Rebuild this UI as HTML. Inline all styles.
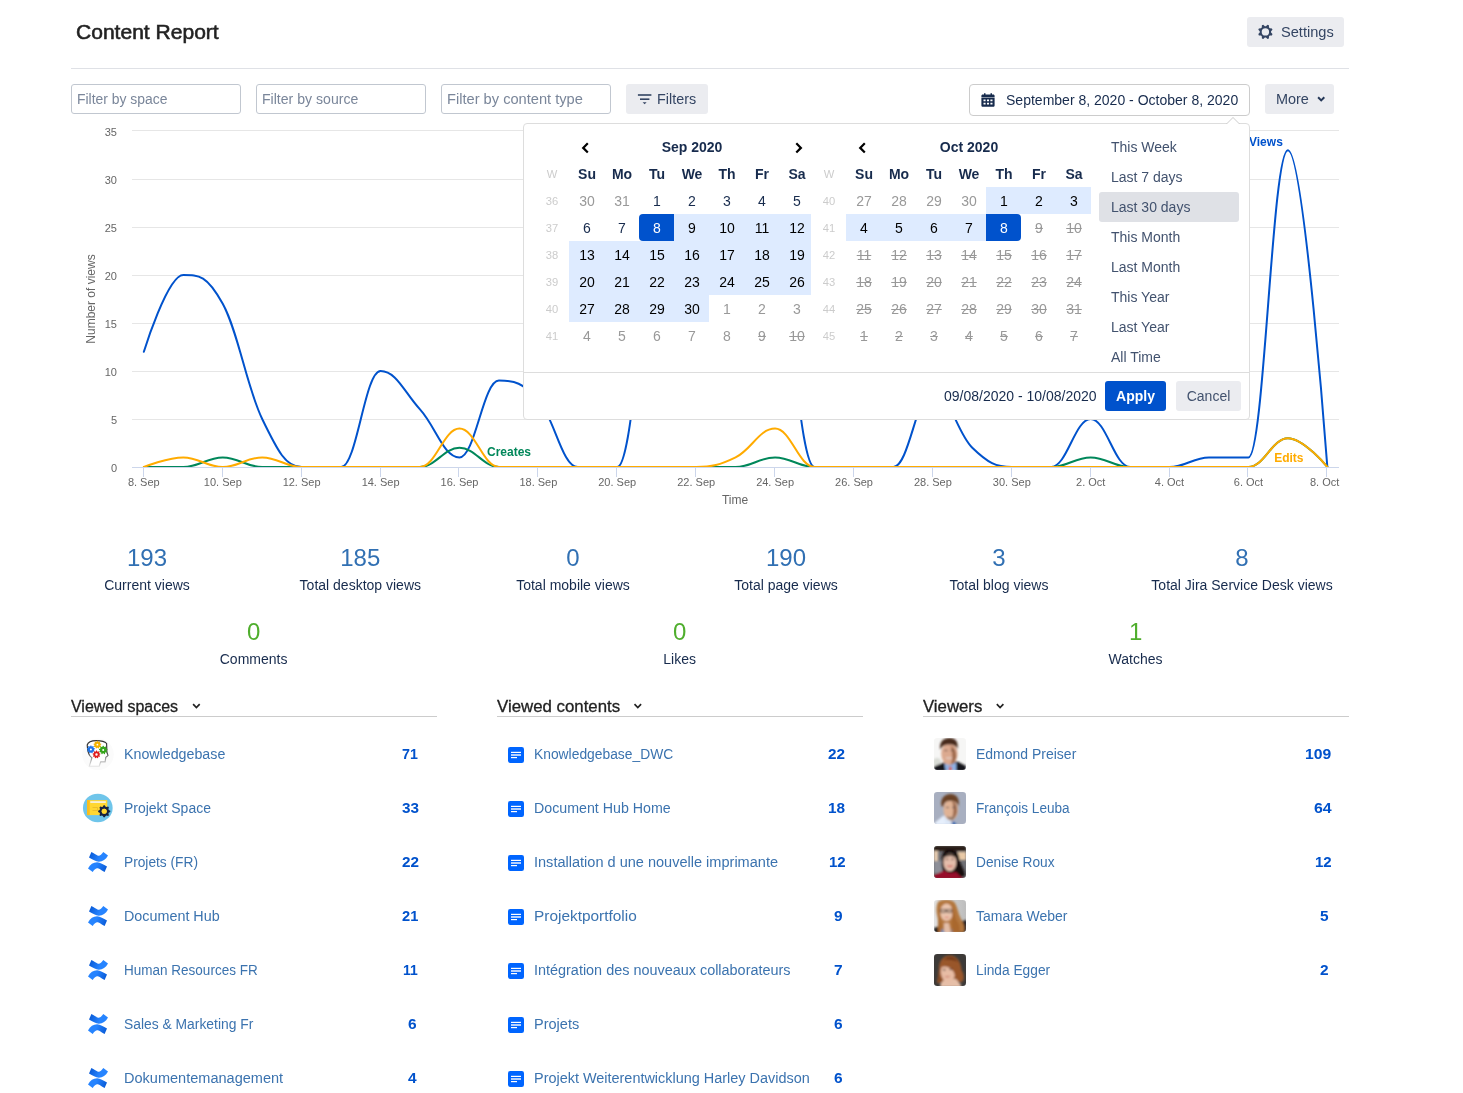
<!DOCTYPE html>
<html lang="en"><head><meta charset="utf-8"><title>Content Report</title>
<style>
html,body{margin:0;padding:0;background:#fff;}
body{width:1463px;height:1093px;overflow:hidden;font-family:"Liberation Sans",sans-serif;font-size:14px;color:#172b4d;}
#page{position:relative;width:1463px;height:1093px;overflow:hidden;will-change:transform;}
.t{position:absolute;white-space:pre;line-height:20px;height:20px;transform-origin:0 0;}
.abs{position:absolute;}
.btn{position:absolute;background:#ebecf0;border-radius:3px;}
.inp{position:absolute;box-sizing:border-box;border:1px solid #c1c7d0;border-radius:3px;background:#fff;}
.hr{position:absolute;height:1px;}
svg{position:absolute;overflow:visible;}
.drp{position:absolute;background:#fff;border:1px solid #ddd;border-radius:4px;font-family:"Liberation Sans",sans-serif;font-size:14px;}
.drp-arrow-b{position:absolute;left:702px;top:-7px;width:0;height:0;border-left:7px solid transparent;border-right:7px solid transparent;border-bottom:7px solid #ccc;}
.drp-arrow-f{position:absolute;left:703px;top:-6px;width:0;height:0;border-left:6px solid transparent;border-right:6px solid transparent;border-bottom:6px solid #fff;}
.cal{position:absolute;overflow:hidden;background:#fff;}
.cal .c{position:absolute;height:27px;line-height:29px;padding-left:1px;box-sizing:border-box;text-align:center;color:#172b4d;font-size:14px;white-space:nowrap;}
.cal .c.mon,.cal .c.dn{font-weight:bold;}
.cal .c.wk{font-size:11.2px;color:#ccc;}
.cal .c.in{background:#deebff;color:#000;}
.cal .c.off{color:#999;background:#fff;}
.cal .c.dis{text-decoration:line-through;}
.cal .c.act{background:#0052cc;color:#fff;}
.cal .c.st{border-radius:4px 0 0 4px;}
.cal .c.en{border-radius:0 4px 4px 0;}
.ranges{position:absolute;width:140px;}
.rg{height:30px;line-height:30px;padding-left:12px;color:#42526e;font-size:14px;border-radius:3px;box-sizing:border-box;}
.rg.on{background:#dfe1e6;}
.sel{position:absolute;height:30px;line-height:30px;font-size:14px;color:#172b4d;white-space:nowrap;}
.pbtn{position:absolute;height:30px;line-height:30px;text-align:center;border-radius:3px;font-size:14px;}
.pbtn.apply{background:#0052cc;color:#fff;font-weight:bold;}
.pbtn.cancel{background:#ebecf0;color:#42526e;}
.stat{position:absolute;width:300px;text-align:center;}
.stat .num{font-size:24px;line-height:30px;height:30px;color:#3170b3;}
.stat.g .num{color:#4fae2d;}
.stat .lab{font-size:14px;line-height:20px;height:20px;margin-top:2px;color:#172b4d;white-space:nowrap;}
.cnt{font-weight:bold;color:#0052cc;font-size:14px;}

</style></head>
<body>
<div id="page">
<div class="btn" style="left:1247px;top:17px;width:97px;height:30px"></div>
<svg style="left:0;top:0" width="1463" height="130"><path fill="#344563" fill-rule="evenodd" d="M1267.55 24.82 L1268.89 25.37 L1269.02 27.49 L1269.81 28.28 L1271.93 28.41 L1272.48 29.75 L1271.07 31.34 L1271.07 32.46 L1272.48 34.05 L1271.93 35.39 L1269.81 35.52 L1269.02 36.31 L1268.89 38.43 L1267.55 38.98 L1265.96 37.57 L1264.84 37.57 L1263.25 38.98 L1261.91 38.43 L1261.78 36.31 L1260.99 35.52 L1258.87 35.39 L1258.32 34.05 L1259.73 32.46 L1259.73 31.34 L1258.32 29.75 L1258.87 28.41 L1260.99 28.28 L1261.78 27.49 L1261.91 25.37 L1263.25 24.82 L1264.84 26.23 L1265.96 26.23Z M1261.70 31.90 a3.7 3.7 0 1 0 7.4 0 a3.7 3.7 0 1 0 -7.4 0Z"/></svg>
<div class="hr" style="left:71px;top:68px;width:1278px;background:#dfe1e6"></div>
<div class="inp" style="left:71px;top:84px;width:170px;height:30px"></div>
<div class="inp" style="left:256px;top:84px;width:170px;height:30px"></div>
<div class="inp" style="left:441px;top:84px;width:170px;height:30px"></div>
<div class="btn" style="left:626px;top:84px;width:82px;height:30px"></div>
<svg style="left:0;top:0" width="1463" height="130"><g fill="#344563"><rect x="637.9" y="94.2" width="13.5" height="1.6"/><rect x="640" y="98.4" width="9.4" height="1.6"/><path d="M642.6 102.3h4l-2 1.9z"/></g></svg>
<div class="inp" style="left:969px;top:84px;width:281px;height:32px;border-color:#ccc;border-radius:4px"></div>
<svg style="left:981px;top:93px" width="14" height="14" viewBox="0 0 14 14"><path fill="#172b4d" d="M3 0.200h1.500v1.400h5V0.200H11v1.400h1.300c.7 0 1.300.6 1.300 1.300v1.500H0.400V2.900c0-.7.600-1.300 1.300-1.300H3z"/><path fill="#172b4d" fill-rule="evenodd" d="M0.400 5.100h13.200v7.400c0 .7-.6 1.300-1.300 1.300H1.700c-.7 0-1.300-.6-1.300-1.300zM2.500 6.400v1.900h2.100V6.400zM5.950 6.400v1.900h2.100V6.400zM9.400 6.400v1.900h2.100V6.400zM2.500 9.700v1.900h2.100V9.700zM5.950 9.700v1.900h2.100V9.700zM9.400 9.700v1.900h2.100V9.700z"/></svg>
<div class="btn" style="left:1265px;top:84px;width:69px;height:30px"></div>
<svg style="left:0;top:0" width="1463" height="130"><path d="M1318.1 97.3l3.1 3.1 3.1-3.1" fill="none" stroke="#253858" stroke-width="2" stroke-linejoin="miter"/></svg>
<svg style="left:0;top:0" width="1463" height="530" font-family="Liberation Sans, sans-serif">
<rect x="132" y="130" width="1207" height="1" fill="#e6e6e6"/>
<rect x="132" y="179" width="1207" height="1" fill="#e6e6e6"/>
<rect x="132" y="227" width="1207" height="1" fill="#e6e6e6"/>
<rect x="132" y="275" width="1207" height="1" fill="#e6e6e6"/>
<rect x="132" y="323" width="1207" height="1" fill="#e6e6e6"/>
<rect x="132" y="371" width="1207" height="1" fill="#e6e6e6"/>
<rect x="132" y="419" width="1207" height="1" fill="#e6e6e6"/>
<rect x="132" y="467" width="1207" height="1" fill="#ccd6eb"/>
<rect x="143" y="467" width="1" height="10" fill="#ccd6eb"/>
<rect x="222" y="467" width="1" height="10" fill="#ccd6eb"/>
<rect x="301" y="467" width="1" height="10" fill="#ccd6eb"/>
<rect x="380" y="467" width="1" height="10" fill="#ccd6eb"/>
<rect x="458" y="467" width="1" height="10" fill="#ccd6eb"/>
<rect x="537" y="467" width="1" height="10" fill="#ccd6eb"/>
<rect x="616" y="467" width="1" height="10" fill="#ccd6eb"/>
<rect x="695" y="467" width="1" height="10" fill="#ccd6eb"/>
<rect x="774" y="467" width="1" height="10" fill="#ccd6eb"/>
<rect x="853" y="467" width="1" height="10" fill="#ccd6eb"/>
<rect x="932" y="467" width="1" height="10" fill="#ccd6eb"/>
<rect x="1011" y="467" width="1" height="10" fill="#ccd6eb"/>
<rect x="1090" y="467" width="1" height="10" fill="#ccd6eb"/>
<rect x="1169" y="467" width="1" height="10" fill="#ccd6eb"/>
<rect x="1247" y="467" width="1" height="10" fill="#ccd6eb"/>
<rect x="1326" y="467" width="1" height="10" fill="#ccd6eb"/>
<text x="117" y="136.10000000000002" text-anchor="end" font-size="11" fill="#666">35</text>
<text x="117" y="184.3" text-anchor="end" font-size="11" fill="#666">30</text>
<text x="117" y="232.3" text-anchor="end" font-size="11" fill="#666">25</text>
<text x="117" y="280.3" text-anchor="end" font-size="11" fill="#666">20</text>
<text x="117" y="328.3" text-anchor="end" font-size="11" fill="#666">15</text>
<text x="117" y="376.3" text-anchor="end" font-size="11" fill="#666">10</text>
<text x="117" y="424.3" text-anchor="end" font-size="11" fill="#666">5</text>
<text x="117" y="472.3" text-anchor="end" font-size="11" fill="#666">0</text>
<text x="143.8" y="485.6" text-anchor="middle" font-size="11" fill="#666">8. Sep</text>
<text x="222.8" y="485.6" text-anchor="middle" font-size="11" fill="#666">10. Sep</text>
<text x="301.6" y="485.6" text-anchor="middle" font-size="11" fill="#666">12. Sep</text>
<text x="380.6" y="485.6" text-anchor="middle" font-size="11" fill="#666">14. Sep</text>
<text x="459.5" y="485.6" text-anchor="middle" font-size="11" fill="#666">16. Sep</text>
<text x="538.4" y="485.6" text-anchor="middle" font-size="11" fill="#666">18. Sep</text>
<text x="617.2" y="485.6" text-anchor="middle" font-size="11" fill="#666">20. Sep</text>
<text x="696.2" y="485.6" text-anchor="middle" font-size="11" fill="#666">22. Sep</text>
<text x="775.1" y="485.6" text-anchor="middle" font-size="11" fill="#666">24. Sep</text>
<text x="854.0" y="485.6" text-anchor="middle" font-size="11" fill="#666">26. Sep</text>
<text x="932.9" y="485.6" text-anchor="middle" font-size="11" fill="#666">28. Sep</text>
<text x="1011.8" y="485.6" text-anchor="middle" font-size="11" fill="#666">30. Sep</text>
<text x="1090.7" y="485.6" text-anchor="middle" font-size="11" fill="#666">2. Oct</text>
<text x="1169.5" y="485.6" text-anchor="middle" font-size="11" fill="#666">4. Oct</text>
<text x="1248.5" y="485.6" text-anchor="middle" font-size="11" fill="#666">6. Oct</text>
<text x="1324.6" y="485.6" text-anchor="middle" font-size="11" fill="#666">8. Oct</text>
<text x="735" y="503.8" text-anchor="middle" font-size="12" fill="#666">Time</text>
<text transform="translate(94.5,299) rotate(-90)" text-anchor="middle" font-size="12" fill="#666">Number of views</text>
<defs><clipPath id="plotclip"><rect x="132" y="130" width="1207" height="337"/></clipPath></defs><g clip-path="url(#plotclip)">
<path d="M143.85 351.80 C143.85 351.80 167.52 275.00 183.30 275.00 C199.08 275.00 206.97 275.00 222.75 303.80 C238.53 332.60 246.42 386.36 262.20 419.00 C277.98 451.64 285.87 467.00 301.65 467.00 C317.43 467.00 325.32 467.00 341.10 467.00 C356.88 467.00 364.77 371.00 380.55 371.00 C396.33 371.00 404.22 392.12 420.00 409.40 C435.78 426.68 443.67 457.40 459.45 457.40 C475.23 457.40 483.12 380.60 498.90 380.60 C514.68 380.60 522.57 382.52 538.35 399.80 C554.13 417.08 562.02 467.00 577.80 467.00 C593.58 467.00 601.47 467.00 617.25 467.00 C633.03 467.00 640.92 275.00 656.70 275.00 C672.48 275.00 680.37 380.60 696.15 390.20 C711.93 399.80 719.82 399.80 735.60 399.80 C751.38 399.80 759.27 275.00 775.05 275.00 C790.83 275.00 798.72 467.00 814.50 467.00 C830.28 467.00 838.17 467.00 853.95 467.00 C869.73 467.00 877.62 467.00 893.40 467.00 C909.18 467.00 917.07 390.20 932.85 390.20 C948.63 390.20 956.52 432.44 972.30 447.80 C988.08 463.16 995.97 467.00 1011.75 467.00 C1027.53 467.00 1035.42 467.00 1051.20 467.00 C1066.98 467.00 1074.87 419.00 1090.65 419.00 C1106.43 419.00 1114.32 467.00 1130.10 467.00 C1145.88 467.00 1153.77 467.00 1169.55 467.00 C1185.33 467.00 1193.22 457.40 1209.00 457.40 C1224.78 457.40 1232.67 457.40 1248.45 457.40 C1264.23 457.40 1272.12 150.20 1287.90 150.20 C1303.68 150.20 1327.35 467.00 1327.35 467.00" fill="none" stroke="#0052cc" stroke-width="2" stroke-linejoin="round" stroke-linecap="round"/>
<path d="M143.85 467.00 C143.85 467.00 167.52 467.00 183.30 467.00 C199.08 467.00 206.97 457.40 222.75 457.40 C238.53 457.40 246.42 467.00 262.20 467.00 C277.98 467.00 285.87 467.00 301.65 467.00 C317.43 467.00 325.32 467.00 341.10 467.00 C356.88 467.00 364.77 467.00 380.55 467.00 C396.33 467.00 404.22 467.00 420.00 467.00 C435.78 467.00 443.67 447.80 459.45 447.80 C475.23 447.80 483.12 467.00 498.90 467.00 C514.68 467.00 522.57 467.00 538.35 467.00 C554.13 467.00 562.02 467.00 577.80 467.00 C593.58 467.00 601.47 467.00 617.25 467.00 C633.03 467.00 640.92 467.00 656.70 467.00 C672.48 467.00 680.37 467.00 696.15 467.00 C711.93 467.00 719.82 467.00 735.60 467.00 C751.38 467.00 759.27 457.40 775.05 457.40 C790.83 457.40 798.72 467.00 814.50 467.00 C830.28 467.00 838.17 467.00 853.95 467.00 C869.73 467.00 877.62 467.00 893.40 467.00 C909.18 467.00 917.07 467.00 932.85 467.00 C948.63 467.00 956.52 467.00 972.30 467.00 C988.08 467.00 995.97 467.00 1011.75 467.00 C1027.53 467.00 1035.42 467.00 1051.20 467.00 C1066.98 467.00 1074.87 457.40 1090.65 457.40 C1106.43 457.40 1114.32 467.00 1130.10 467.00 C1145.88 467.00 1153.77 467.00 1169.55 467.00 C1185.33 467.00 1193.22 467.00 1209.00 467.00 C1224.78 467.00 1232.67 467.00 1248.45 467.00 C1264.23 467.00 1272.12 438.20 1287.90 438.20 C1303.68 438.20 1327.35 467.00 1327.35 467.00" fill="none" stroke="#00875a" stroke-width="2" stroke-linejoin="round" stroke-linecap="round"/>
<path d="M143.85 467.00 C143.85 467.00 167.52 457.40 183.30 457.40 C199.08 457.40 206.97 467.00 222.75 467.00 C238.53 467.00 246.42 457.40 262.20 457.40 C277.98 457.40 285.87 467.00 301.65 467.00 C317.43 467.00 325.32 467.00 341.10 467.00 C356.88 467.00 364.77 467.00 380.55 467.00 C396.33 467.00 404.22 467.00 420.00 467.00 C435.78 467.00 443.67 428.60 459.45 428.60 C475.23 428.60 483.12 467.00 498.90 467.00 C514.68 467.00 522.57 467.00 538.35 467.00 C554.13 467.00 562.02 467.00 577.80 467.00 C593.58 467.00 601.47 467.00 617.25 467.00 C633.03 467.00 640.92 467.00 656.70 467.00 C672.48 467.00 680.37 467.00 696.15 467.00 C711.93 467.00 719.82 465.08 735.60 457.40 C751.38 449.72 759.27 428.60 775.05 428.60 C790.83 428.60 798.72 467.00 814.50 467.00 C830.28 467.00 838.17 467.00 853.95 467.00 C869.73 467.00 877.62 467.00 893.40 467.00 C909.18 467.00 917.07 467.00 932.85 467.00 C948.63 467.00 956.52 467.00 972.30 467.00 C988.08 467.00 995.97 467.00 1011.75 467.00 C1027.53 467.00 1035.42 467.00 1051.20 467.00 C1066.98 467.00 1074.87 467.00 1090.65 467.00 C1106.43 467.00 1114.32 467.00 1130.10 467.00 C1145.88 467.00 1153.77 467.00 1169.55 467.00 C1185.33 467.00 1193.22 467.00 1209.00 467.00 C1224.78 467.00 1232.67 467.00 1248.45 467.00 C1264.23 467.00 1272.12 438.20 1287.90 438.20 C1303.68 438.20 1327.35 467.00 1327.35 467.00" fill="none" stroke="#ffab00" stroke-width="2" stroke-linejoin="round" stroke-linecap="round"/>
</g>
<text x="1249" y="145.7" font-size="12" font-weight="bold" fill="#0052cc">Views</text>
<text x="487" y="455.6" font-size="12" font-weight="bold" fill="#00875a">Creates</text>
<text x="1274.2" y="461.8" font-size="12" font-weight="bold" fill="#ffab00">Edits</text>
</svg>
<div class="drp" style="left:523px;top:123px;width:725px;height:295px">
<div class="drp-arrow-b"></div><div class="drp-arrow-f"></div>
<div class="cal" style="left:10px;top:9px;width:277px;height:216px">
<div class="c mon" style="left:70px;top:0px;width:175px">Sep 2020</div>
<svg style="left:35px;top:0" width="35" height="27"><path d="M18.8 10.3l-4.6 4.6 4.6 4.6" fill="none" stroke="#000" stroke-width="2.2"/></svg>
<svg style="left:245px;top:0" width="35" height="27"><path d="M17.3 10.3l4.6 4.6-4.6 4.6" fill="none" stroke="#000" stroke-width="2.2"/></svg>
<div class="c wk" style="left:0px;top:27px;width:35px">W</div>
<div class="c dn" style="left:35px;top:27px;width:35px">Su</div>
<div class="c dn" style="left:70px;top:27px;width:35px">Mo</div>
<div class="c dn" style="left:105px;top:27px;width:35px">Tu</div>
<div class="c dn" style="left:140px;top:27px;width:35px">We</div>
<div class="c dn" style="left:175px;top:27px;width:35px">Th</div>
<div class="c dn" style="left:210px;top:27px;width:35px">Fr</div>
<div class="c dn" style="left:245px;top:27px;width:35px">Sa</div>
<div class="c wk" style="left:0px;top:54px;width:35px">36</div>
<div class="c off" style="left:35px;top:54px;width:35px">30</div>
<div class="c off" style="left:70px;top:54px;width:35px">31</div>
<div class="c " style="left:105px;top:54px;width:35px">1</div>
<div class="c " style="left:140px;top:54px;width:35px">2</div>
<div class="c " style="left:175px;top:54px;width:35px">3</div>
<div class="c " style="left:210px;top:54px;width:35px">4</div>
<div class="c " style="left:245px;top:54px;width:35px">5</div>
<div class="c wk" style="left:0px;top:81px;width:35px">37</div>
<div class="c " style="left:35px;top:81px;width:35px">6</div>
<div class="c " style="left:70px;top:81px;width:35px">7</div>
<div class="c act st" style="left:105px;top:81px;width:35px">8</div>
<div class="c in" style="left:140px;top:81px;width:35px">9</div>
<div class="c in" style="left:175px;top:81px;width:35px">10</div>
<div class="c in" style="left:210px;top:81px;width:35px">11</div>
<div class="c in" style="left:245px;top:81px;width:35px">12</div>
<div class="c wk" style="left:0px;top:108px;width:35px">38</div>
<div class="c in" style="left:35px;top:108px;width:35px">13</div>
<div class="c in" style="left:70px;top:108px;width:35px">14</div>
<div class="c in" style="left:105px;top:108px;width:35px">15</div>
<div class="c in" style="left:140px;top:108px;width:35px">16</div>
<div class="c in" style="left:175px;top:108px;width:35px">17</div>
<div class="c in" style="left:210px;top:108px;width:35px">18</div>
<div class="c in" style="left:245px;top:108px;width:35px">19</div>
<div class="c wk" style="left:0px;top:135px;width:35px">39</div>
<div class="c in" style="left:35px;top:135px;width:35px">20</div>
<div class="c in" style="left:70px;top:135px;width:35px">21</div>
<div class="c in" style="left:105px;top:135px;width:35px">22</div>
<div class="c in" style="left:140px;top:135px;width:35px">23</div>
<div class="c in" style="left:175px;top:135px;width:35px">24</div>
<div class="c in" style="left:210px;top:135px;width:35px">25</div>
<div class="c in" style="left:245px;top:135px;width:35px">26</div>
<div class="c wk" style="left:0px;top:162px;width:35px">40</div>
<div class="c in" style="left:35px;top:162px;width:35px">27</div>
<div class="c in" style="left:70px;top:162px;width:35px">28</div>
<div class="c in" style="left:105px;top:162px;width:35px">29</div>
<div class="c in" style="left:140px;top:162px;width:35px">30</div>
<div class="c off" style="left:175px;top:162px;width:35px">1</div>
<div class="c off" style="left:210px;top:162px;width:35px">2</div>
<div class="c off" style="left:245px;top:162px;width:35px">3</div>
<div class="c wk" style="left:0px;top:189px;width:35px">41</div>
<div class="c off" style="left:35px;top:189px;width:35px">4</div>
<div class="c off" style="left:70px;top:189px;width:35px">5</div>
<div class="c off" style="left:105px;top:189px;width:35px">6</div>
<div class="c off" style="left:140px;top:189px;width:35px">7</div>
<div class="c off" style="left:175px;top:189px;width:35px">8</div>
<div class="c off dis" style="left:210px;top:189px;width:35px">9</div>
<div class="c off dis" style="left:245px;top:189px;width:35px">10</div>
</div>
<div class="cal" style="left:287px;top:9px;width:280px;height:216px">
<div class="c mon" style="left:70px;top:0px;width:175px">Oct 2020</div>
<svg style="left:35px;top:0" width="35" height="27"><path d="M18.8 10.3l-4.6 4.6 4.6 4.6" fill="none" stroke="#000" stroke-width="2.2"/></svg>
<div class="c wk" style="left:0px;top:27px;width:35px">W</div>
<div class="c dn" style="left:35px;top:27px;width:35px">Su</div>
<div class="c dn" style="left:70px;top:27px;width:35px">Mo</div>
<div class="c dn" style="left:105px;top:27px;width:35px">Tu</div>
<div class="c dn" style="left:140px;top:27px;width:35px">We</div>
<div class="c dn" style="left:175px;top:27px;width:35px">Th</div>
<div class="c dn" style="left:210px;top:27px;width:35px">Fr</div>
<div class="c dn" style="left:245px;top:27px;width:35px">Sa</div>
<div class="c wk" style="left:0px;top:54px;width:35px">40</div>
<div class="c off" style="left:35px;top:54px;width:35px">27</div>
<div class="c off" style="left:70px;top:54px;width:35px">28</div>
<div class="c off" style="left:105px;top:54px;width:35px">29</div>
<div class="c off" style="left:140px;top:54px;width:35px">30</div>
<div class="c in" style="left:175px;top:54px;width:35px">1</div>
<div class="c in" style="left:210px;top:54px;width:35px">2</div>
<div class="c in" style="left:245px;top:54px;width:35px">3</div>
<div class="c wk" style="left:0px;top:81px;width:35px">41</div>
<div class="c in" style="left:35px;top:81px;width:35px">4</div>
<div class="c in" style="left:70px;top:81px;width:35px">5</div>
<div class="c in" style="left:105px;top:81px;width:35px">6</div>
<div class="c in" style="left:140px;top:81px;width:35px">7</div>
<div class="c act en" style="left:175px;top:81px;width:35px">8</div>
<div class="c off dis" style="left:210px;top:81px;width:35px">9</div>
<div class="c off dis" style="left:245px;top:81px;width:35px">10</div>
<div class="c wk" style="left:0px;top:108px;width:35px">42</div>
<div class="c off dis" style="left:35px;top:108px;width:35px">11</div>
<div class="c off dis" style="left:70px;top:108px;width:35px">12</div>
<div class="c off dis" style="left:105px;top:108px;width:35px">13</div>
<div class="c off dis" style="left:140px;top:108px;width:35px">14</div>
<div class="c off dis" style="left:175px;top:108px;width:35px">15</div>
<div class="c off dis" style="left:210px;top:108px;width:35px">16</div>
<div class="c off dis" style="left:245px;top:108px;width:35px">17</div>
<div class="c wk" style="left:0px;top:135px;width:35px">43</div>
<div class="c off dis" style="left:35px;top:135px;width:35px">18</div>
<div class="c off dis" style="left:70px;top:135px;width:35px">19</div>
<div class="c off dis" style="left:105px;top:135px;width:35px">20</div>
<div class="c off dis" style="left:140px;top:135px;width:35px">21</div>
<div class="c off dis" style="left:175px;top:135px;width:35px">22</div>
<div class="c off dis" style="left:210px;top:135px;width:35px">23</div>
<div class="c off dis" style="left:245px;top:135px;width:35px">24</div>
<div class="c wk" style="left:0px;top:162px;width:35px">44</div>
<div class="c off dis" style="left:35px;top:162px;width:35px">25</div>
<div class="c off dis" style="left:70px;top:162px;width:35px">26</div>
<div class="c off dis" style="left:105px;top:162px;width:35px">27</div>
<div class="c off dis" style="left:140px;top:162px;width:35px">28</div>
<div class="c off dis" style="left:175px;top:162px;width:35px">29</div>
<div class="c off dis" style="left:210px;top:162px;width:35px">30</div>
<div class="c off dis" style="left:245px;top:162px;width:35px">31</div>
<div class="c wk" style="left:0px;top:189px;width:35px">45</div>
<div class="c off dis" style="left:35px;top:189px;width:35px">1</div>
<div class="c off dis" style="left:70px;top:189px;width:35px">2</div>
<div class="c off dis" style="left:105px;top:189px;width:35px">3</div>
<div class="c off dis" style="left:140px;top:189px;width:35px">4</div>
<div class="c off dis" style="left:175px;top:189px;width:35px">5</div>
<div class="c off dis" style="left:210px;top:189px;width:35px">6</div>
<div class="c off dis" style="left:245px;top:189px;width:35px">7</div>
</div>
<div class="ranges" style="left:575px;top:8px">
<div class="rg">This Week</div>
<div class="rg">Last 7 days</div>
<div class="rg on">Last 30 days</div>
<div class="rg">This Month</div>
<div class="rg">Last Month</div>
<div class="rg">This Year</div>
<div class="rg">Last Year</div>
<div class="rg">All Time</div>
</div>
<div class="abs" style="left:0;top:248px;width:725px;height:1px;background:#ddd"></div>
<div class="sel" style="left:420px;top:257px">09/08/2020 - 10/08/2020</div>
<div class="pbtn apply" style="left:581px;top:257px;width:61px">Apply</div>
<div class="pbtn cancel" style="left:652px;top:257px;width:65px">Cancel</div>
</div>
<div class="stat" style="left:-3px;top:543px"><div class="num">193</div><div class="lab">Current views</div></div>
<div class="stat" style="left:210.3px;top:543px"><div class="num">185</div><div class="lab">Total desktop views</div></div>
<div class="stat" style="left:423px;top:543px"><div class="num">0</div><div class="lab">Total mobile views</div></div>
<div class="stat" style="left:636px;top:543px"><div class="num">190</div><div class="lab">Total page views</div></div>
<div class="stat" style="left:849px;top:543px"><div class="num">3</div><div class="lab">Total blog views</div></div>
<div class="stat" style="left:1092px;top:543px"><div class="num">8</div><div class="lab">Total Jira Service Desk views</div></div>
<div class="stat g" style="left:103.6px;top:617px"><div class="num">0</div><div class="lab">Comments</div></div>
<div class="stat g" style="left:529.6px;top:617px"><div class="num">0</div><div class="lab">Likes</div></div>
<div class="stat g" style="left:985.5999999999999px;top:617px"><div class="num">1</div><div class="lab">Watches</div></div>
<svg style="left:0;top:690px" width="1463" height="30"><path d="M193.1 14.2l3.3 3.3 3.3-3.3" fill="none" stroke="#222" stroke-width="1.7"/></svg>
<div class="hr" style="left:71px;top:716px;width:366px;background:#ccc"></div>
<svg style="left:0;top:690px" width="1463" height="30"><path d="M634.5 14.2l3.3 3.3 3.3-3.3" fill="none" stroke="#222" stroke-width="1.7"/></svg>
<div class="hr" style="left:497px;top:716px;width:366px;background:#ccc"></div>
<svg style="left:0;top:690px" width="1463" height="30"><path d="M996.8 14.2l3.3 3.3 3.3-3.3" fill="none" stroke="#222" stroke-width="1.7"/></svg>
<div class="hr" style="left:923px;top:716px;width:426px;background:#ccc"></div>
<svg style="left:88px;top:852px" width="20" height="20" viewBox="0 0 20 20"><defs><linearGradient id="cg2a" x1="1" y1="1" x2="12" y2="6" gradientUnits="userSpaceOnUse"><stop offset="0" stop-color="#0656d2"/><stop offset="1" stop-color="#2684ff"/></linearGradient><linearGradient id="cg2b" x1="19" y1="19" x2="8" y2="14" gradientUnits="userSpaceOnUse"><stop offset="0" stop-color="#0656d2"/><stop offset="1" stop-color="#2684ff"/></linearGradient></defs><path fill="url(#cg2a)" d="M3.4 0.1C6 1.3 8 3 9.5 3.5C11.5 4.2 13.2 3.2 15.3 0.1L20 3.6C17.8 7.7 14.500 9.850 10.700 9.750C8 9.650 4.500 7.300 1 5.500Z"/><path fill="url(#cg2b)" d="M16.6 19.9C14 18.7 12 17 10.500 16.500C8.500 15.800 6.800 16.800 4.700 19.900L0 16.400C2.200 12.300 5.500 10.150 9.300 10.250C12 10.350 15.500 12.700 19 14.500Z"/></svg>
<svg style="left:88px;top:906px" width="20" height="20" viewBox="0 0 20 20"><defs><linearGradient id="cg3a" x1="1" y1="1" x2="12" y2="6" gradientUnits="userSpaceOnUse"><stop offset="0" stop-color="#0656d2"/><stop offset="1" stop-color="#2684ff"/></linearGradient><linearGradient id="cg3b" x1="19" y1="19" x2="8" y2="14" gradientUnits="userSpaceOnUse"><stop offset="0" stop-color="#0656d2"/><stop offset="1" stop-color="#2684ff"/></linearGradient></defs><path fill="url(#cg3a)" d="M3.4 0.1C6 1.3 8 3 9.5 3.5C11.5 4.2 13.2 3.2 15.3 0.1L20 3.6C17.8 7.7 14.500 9.850 10.700 9.750C8 9.650 4.500 7.300 1 5.500Z"/><path fill="url(#cg3b)" d="M16.6 19.9C14 18.7 12 17 10.500 16.500C8.500 15.800 6.800 16.800 4.700 19.900L0 16.400C2.200 12.300 5.500 10.150 9.300 10.250C12 10.350 15.500 12.700 19 14.500Z"/></svg>
<svg style="left:88px;top:960px" width="20" height="20" viewBox="0 0 20 20"><defs><linearGradient id="cg4a" x1="1" y1="1" x2="12" y2="6" gradientUnits="userSpaceOnUse"><stop offset="0" stop-color="#0656d2"/><stop offset="1" stop-color="#2684ff"/></linearGradient><linearGradient id="cg4b" x1="19" y1="19" x2="8" y2="14" gradientUnits="userSpaceOnUse"><stop offset="0" stop-color="#0656d2"/><stop offset="1" stop-color="#2684ff"/></linearGradient></defs><path fill="url(#cg4a)" d="M3.4 0.1C6 1.3 8 3 9.5 3.5C11.5 4.2 13.2 3.2 15.3 0.1L20 3.6C17.8 7.7 14.500 9.850 10.700 9.750C8 9.650 4.500 7.300 1 5.500Z"/><path fill="url(#cg4b)" d="M16.6 19.9C14 18.7 12 17 10.500 16.500C8.500 15.800 6.800 16.800 4.700 19.900L0 16.400C2.200 12.300 5.500 10.150 9.300 10.250C12 10.350 15.500 12.700 19 14.500Z"/></svg>
<svg style="left:88px;top:1014px" width="20" height="20" viewBox="0 0 20 20"><defs><linearGradient id="cg5a" x1="1" y1="1" x2="12" y2="6" gradientUnits="userSpaceOnUse"><stop offset="0" stop-color="#0656d2"/><stop offset="1" stop-color="#2684ff"/></linearGradient><linearGradient id="cg5b" x1="19" y1="19" x2="8" y2="14" gradientUnits="userSpaceOnUse"><stop offset="0" stop-color="#0656d2"/><stop offset="1" stop-color="#2684ff"/></linearGradient></defs><path fill="url(#cg5a)" d="M3.4 0.1C6 1.3 8 3 9.5 3.5C11.5 4.2 13.2 3.2 15.3 0.1L20 3.6C17.8 7.7 14.500 9.850 10.700 9.750C8 9.650 4.500 7.300 1 5.500Z"/><path fill="url(#cg5b)" d="M16.6 19.9C14 18.7 12 17 10.500 16.500C8.500 15.800 6.800 16.800 4.700 19.900L0 16.400C2.200 12.300 5.500 10.150 9.300 10.250C12 10.350 15.500 12.700 19 14.500Z"/></svg>
<svg style="left:88px;top:1068px" width="20" height="20" viewBox="0 0 20 20"><defs><linearGradient id="cg6a" x1="1" y1="1" x2="12" y2="6" gradientUnits="userSpaceOnUse"><stop offset="0" stop-color="#0656d2"/><stop offset="1" stop-color="#2684ff"/></linearGradient><linearGradient id="cg6b" x1="19" y1="19" x2="8" y2="14" gradientUnits="userSpaceOnUse"><stop offset="0" stop-color="#0656d2"/><stop offset="1" stop-color="#2684ff"/></linearGradient></defs><path fill="url(#cg6a)" d="M3.4 0.1C6 1.3 8 3 9.5 3.5C11.5 4.2 13.2 3.2 15.3 0.1L20 3.6C17.8 7.7 14.500 9.850 10.700 9.750C8 9.650 4.500 7.300 1 5.500Z"/><path fill="url(#cg6b)" d="M16.6 19.9C14 18.7 12 17 10.500 16.500C8.500 15.800 6.800 16.800 4.700 19.900L0 16.400C2.200 12.300 5.500 10.150 9.300 10.250C12 10.350 15.500 12.700 19 14.500Z"/></svg>
<svg style="left:78px;top:734px" width="40" height="40" viewBox="0 0 40 40">
<defs><filter id="kbb" x="-10%" y="-10%" width="120%" height="120%"><feGaussianBlur stdDeviation="0.35"/></filter>
<linearGradient id="kbf" x1="0" y1="0" x2="0" y2="1"><stop offset="0.45" stop-color="#333" stop-opacity="1"/><stop offset="1" stop-color="#999" stop-opacity="0.25"/></linearGradient></defs>
<circle cx="20" cy="20.300" r="15.800" fill="#fbfbfb"/>
<g filter="url(#kbb)">
<path d="M9.200 11C10 8 14 6.600 18.300 6.600C23 6.600 27 7.500 28.600 9.500L28.900 18.300L30 21.600L27.800 23.400L27.100 27.800L22.700 27.800L21.200 32.200L11.400 32.200L13.900 23.800C11 22 9.500 19 9.200 11Z" fill="#fff" stroke="url(#kbf)" stroke-width="1.15"/>
<path fill-rule="evenodd" fill="#f2b100" d="M19.05 6.72 L19.75 6.72 L20.20 7.71 L20.71 7.89 L21.69 7.42 L22.23 7.87 L21.94 8.92 L22.21 9.39 L23.26 9.66 L23.38 10.35 L22.49 10.97 L22.39 11.50 L23.03 12.39 L22.68 12.99 L21.59 12.89 L21.18 13.24 L21.09 14.33 L20.44 14.56 L19.67 13.79 L19.13 13.79 L18.36 14.56 L17.71 14.33 L17.62 13.24 L17.21 12.89 L16.12 12.99 L15.77 12.39 L16.41 11.50 L16.31 10.97 L15.42 10.35 L15.54 9.66 L16.59 9.39 L16.86 8.92 L16.57 7.87 L17.11 7.42 L18.09 7.89 L18.60 7.71Z M18.50 10.70 a0.9 0.9 0 1 0 1.8 0 a0.9 0.9 0 1 0 -1.8 0Z"/>
<path fill-rule="evenodd" fill="#1e73e8" d="M12.55 11.42 L13.25 11.42 L13.70 12.41 L14.21 12.59 L15.19 12.12 L15.73 12.57 L15.44 13.62 L15.71 14.09 L16.76 14.36 L16.88 15.05 L15.99 15.67 L15.89 16.20 L16.53 17.09 L16.18 17.69 L15.09 17.59 L14.68 17.94 L14.59 19.03 L13.94 19.26 L13.17 18.49 L12.63 18.49 L11.86 19.26 L11.21 19.03 L11.12 17.94 L10.71 17.59 L9.62 17.69 L9.27 17.09 L9.91 16.20 L9.81 15.67 L8.92 15.05 L9.04 14.36 L10.09 14.09 L10.36 13.62 L10.07 12.57 L10.61 12.12 L11.59 12.59 L12.10 12.41Z M11.90 15.40 a1.0 1.0 0 1 0 2.0 0 a1.0 1.0 0 1 0 -2.0 0Z"/>
<path fill-rule="evenodd" fill="#35a51c" d="M24.83 11.72 L25.57 11.72 L26.05 12.81 L26.59 13.01 L27.67 12.48 L28.24 12.96 L27.90 14.11 L28.19 14.61 L29.35 14.89 L29.48 15.63 L28.49 16.29 L28.39 16.85 L29.10 17.82 L28.72 18.47 L27.53 18.33 L27.09 18.70 L27.02 19.90 L26.31 20.15 L25.49 19.29 L24.91 19.29 L24.09 20.15 L23.38 19.90 L23.31 18.70 L22.87 18.33 L21.68 18.47 L21.30 17.82 L22.01 16.85 L21.91 16.29 L20.92 15.63 L21.05 14.89 L22.21 14.61 L22.50 14.11 L22.16 12.96 L22.73 12.48 L23.81 13.01 L24.35 12.81Z M24.20 16.00 a1.0 1.0 0 1 0 2.0 0 a1.0 1.0 0 1 0 -2.0 0Z"/>
<path fill-rule="evenodd" fill="#e01f1f" d="M18.16 16.61 L18.84 16.61 L19.28 17.60 L19.77 17.78 L20.74 17.31 L21.26 17.74 L20.96 18.78 L21.22 19.23 L22.27 19.49 L22.39 20.16 L21.49 20.76 L21.40 21.28 L22.03 22.15 L21.69 22.74 L20.62 22.62 L20.22 22.96 L20.15 24.03 L19.51 24.27 L18.76 23.49 L18.24 23.49 L17.49 24.27 L16.85 24.03 L16.78 22.96 L16.38 22.62 L15.31 22.74 L14.97 22.15 L15.60 21.28 L15.51 20.76 L14.61 20.16 L14.73 19.49 L15.78 19.23 L16.04 18.78 L15.74 17.74 L16.26 17.31 L17.23 17.78 L17.72 17.60Z M17.30 20.50 a1.2 1.2 0 1 0 2.4 0 a1.2 1.2 0 1 0 -2.4 0Z"/>
</g></svg>
<svg style="left:78px;top:788px" width="40" height="40" viewBox="0 0 40 40">
<defs><filter id="psb" x="-10%" y="-10%" width="120%" height="120%"><feGaussianBlur stdDeviation="0.3"/></filter></defs>
<ellipse cx="19.800" cy="19.950" rx="14.850" ry="14.300" fill="#6fc5ea"/>
<g filter="url(#psb)">
<rect x="9" y="12.100" width="20.300" height="15" fill="#ffd733"/>
<rect x="9" y="12.100" width="2.700" height="15" fill="#fbbd1e"/>
<rect x="12.300" y="13.300" width="15.500" height="1.500" fill="#f4f6ff"/>
<path d="M14.500 19.500h5v3h-5" fill="none" stroke="#e9b92a" stroke-width="0.8"/>
<path fill-rule="evenodd" fill="#15233f" d="M25.60 17.23 L26.80 17.23 L27.59 18.71 L28.46 19.07 L30.07 18.58 L30.92 19.43 L30.43 21.04 L30.79 21.91 L32.27 22.70 L32.27 23.90 L30.79 24.69 L30.43 25.56 L30.92 27.17 L30.07 28.02 L28.46 27.53 L27.59 27.89 L26.80 29.37 L25.60 29.37 L24.81 27.89 L23.94 27.53 L22.33 28.02 L21.48 27.17 L21.97 25.56 L21.61 24.69 L20.13 23.90 L20.13 22.70 L21.61 21.91 L21.97 21.04 L21.48 19.43 L22.33 18.58 L23.94 19.07 L24.81 18.71Z M23.70 23.30 a2.5 2.5 0 1 0 5.0 0 a2.5 2.5 0 1 0 -5.0 0Z"/>
<circle cx="26.200" cy="23.300" r="2.500" fill="#ffd733"/>
</g></svg>

<svg style="left:508px;top:747px" width="16" height="16" viewBox="0 0 16 16"><rect width="16" height="16" rx="2.2" fill="#0065ff"/><rect x="3" y="4.8" width="10" height="1.2" fill="#fff"/><rect x="3" y="7.2" width="10" height="1.6" fill="#fff" opacity=".88"/><rect x="3" y="10" width="6" height="1.2" fill="#fff"/></svg>
<svg style="left:508px;top:801px" width="16" height="16" viewBox="0 0 16 16"><rect width="16" height="16" rx="2.2" fill="#0065ff"/><rect x="3" y="4.8" width="10" height="1.2" fill="#fff"/><rect x="3" y="7.2" width="10" height="1.6" fill="#fff" opacity=".88"/><rect x="3" y="10" width="6" height="1.2" fill="#fff"/></svg>
<svg style="left:508px;top:855px" width="16" height="16" viewBox="0 0 16 16"><rect width="16" height="16" rx="2.2" fill="#0065ff"/><rect x="3" y="4.8" width="10" height="1.2" fill="#fff"/><rect x="3" y="7.2" width="10" height="1.6" fill="#fff" opacity=".88"/><rect x="3" y="10" width="6" height="1.2" fill="#fff"/></svg>
<svg style="left:508px;top:909px" width="16" height="16" viewBox="0 0 16 16"><rect width="16" height="16" rx="2.2" fill="#0065ff"/><rect x="3" y="4.8" width="10" height="1.2" fill="#fff"/><rect x="3" y="7.2" width="10" height="1.6" fill="#fff" opacity=".88"/><rect x="3" y="10" width="6" height="1.2" fill="#fff"/></svg>
<svg style="left:508px;top:963px" width="16" height="16" viewBox="0 0 16 16"><rect width="16" height="16" rx="2.2" fill="#0065ff"/><rect x="3" y="4.8" width="10" height="1.2" fill="#fff"/><rect x="3" y="7.2" width="10" height="1.6" fill="#fff" opacity=".88"/><rect x="3" y="10" width="6" height="1.2" fill="#fff"/></svg>
<svg style="left:508px;top:1017px" width="16" height="16" viewBox="0 0 16 16"><rect width="16" height="16" rx="2.2" fill="#0065ff"/><rect x="3" y="4.8" width="10" height="1.2" fill="#fff"/><rect x="3" y="7.2" width="10" height="1.6" fill="#fff" opacity=".88"/><rect x="3" y="10" width="6" height="1.2" fill="#fff"/></svg>
<svg style="left:508px;top:1071px" width="16" height="16" viewBox="0 0 16 16"><rect width="16" height="16" rx="2.2" fill="#0065ff"/><rect x="3" y="4.8" width="10" height="1.2" fill="#fff"/><rect x="3" y="7.2" width="10" height="1.6" fill="#fff" opacity=".88"/><rect x="3" y="10" width="6" height="1.2" fill="#fff"/></svg>
<svg style="left:934px;top:738px" width="32" height="32" viewBox="0 0 32 32">
<defs><clipPath id="avc1"><rect width="32" height="32" rx="3.2"/></clipPath><filter id="avb1" x="-20%" y="-20%" width="140%" height="140%"><feGaussianBlur stdDeviation="0.8"/></filter></defs>
<g clip-path="url(#avc1)"><rect width="32" height="32" fill="#f6f6f5"/>
<g filter="url(#avb1)">
<ellipse cx="3" cy="24" rx="4" ry="4" fill="#d9dcd6"/>
<path d="M0 28.500L9.500 24.500L23.500 23.500L32 28V33H0Z" fill="#17171a"/>
<path d="M10.300 25L11.700 33H22.300V24.500L16 27Z" fill="#8fb2e6"/>
<path d="M14.800 29.500l1.500-1.300 1.800 1.600-1 3.200h-2z" fill="#d8542e"/>
<ellipse cx="15.400" cy="15.800" rx="8.200" ry="11.200" fill="#dba98f"/>
<path d="M16.500 8C20 9 22.500 13 22.300 19C21.500 23 19 26 16.500 26.500C19 22 18.500 14 16.500 8Z" fill="#a06a4c"/>
<path d="M6.300 12C5 4 9 0 15.500 0C22 0 24.500 4 23.500 11.500C22.500 8 20 6.500 15 6.500C10.500 6.500 8 8 6.300 12Z" fill="#47291a"/>
<rect x="10.400" y="12" width="3" height="1" fill="#5a463e"/><rect x="16.800" y="12" width="3" height="1" fill="#5a463e"/>
<path d="M12 19.500h6v1.200h-6z" fill="#e9d7d0"/>
</g></g></svg>
<svg style="left:934px;top:792px" width="32" height="32" viewBox="0 0 32 32">
<defs><clipPath id="avc2"><rect width="32" height="32" rx="3.2"/></clipPath><filter id="avb2" x="-20%" y="-20%" width="140%" height="140%"><feGaussianBlur stdDeviation="0.8"/></filter></defs>
<g clip-path="url(#avc2)"><rect width="32" height="32" fill="#a8afc0"/>
<g filter="url(#avb2)">
<path d="M0 33L1.500 30L9.500 23.500L18 33Z" fill="#e6effc"/>
<path d="M9.500 24.500L14 22L18 33H12Z" fill="#dde8f8"/>
<path d="M19.500 29l3 4h-5z" fill="#2d5fae"/>
<ellipse cx="16.800" cy="17.800" rx="7.300" ry="10.600" fill="#e0b294"/>
<path d="M18 9C22 10 23.500 15 23 20C22 25 19 28 17 28C20 23 20 15 18 9Z" fill="#9c6a4e"/>
<path d="M7.500 14C6 7 10 2 16.500 2C23 2 26 7 24.500 14.500C23.500 11 21.500 9 16.500 9C12 9 10 10 9.500 15Z" fill="#6b4327"/>
<rect x="12" y="15" width="3" height="1" fill="#4e4a52"/><rect x="18" y="15" width="3" height="1" fill="#4e4a52"/>
<path d="M12 23.500C14 25.500 18 26 21 23.500L19 27.500H14.500Z" fill="#8a7468"/>
</g></g></svg>
<svg style="left:934px;top:846px" width="32" height="32" viewBox="0 0 32 32">
<defs><clipPath id="avc3"><rect width="32" height="32" rx="3.2"/></clipPath><filter id="avb3" x="-20%" y="-20%" width="140%" height="140%"><feGaussianBlur stdDeviation="0.8"/></filter></defs>
<g clip-path="url(#avc3)"><rect width="32" height="32" fill="#6f6f74"/>
<g filter="url(#avb3)">
<rect x="0" y="0" width="32" height="5" fill="#2a1b16"/>
<rect x="0" y="5" width="4" height="11" fill="#e8cdb0"/>
<rect x="24" y="6" width="8" height="8" fill="#e9c9a6"/>
<rect x="0" y="15" width="8" height="12" fill="#8d8f98"/>
<path d="M8 12C8 5 12 3.500 16 3.500C22 3.500 25 7 25.500 14C27 20 31 24 31 30L22 32L9 25C7 21 8 16 8 12Z" fill="#17110f"/>
<ellipse cx="15.800" cy="16.400" rx="6.500" ry="8.900" fill="#e4bdab"/>
<path d="M10.500 11C12 7.500 19 7 21.500 11.500C19 9.500 14 9.500 10.500 11Z" fill="#17110f"/>
<rect x="11.500" y="12.800" width="3" height="1" fill="#6a4a3e"/><rect x="17" y="12.800" width="3" height="1" fill="#6a4a3e"/>
<path d="M12.800 19.500C14.500 21.500 17.500 21.500 19.200 19.500C18 20 14 20 12.800 19.500Z" fill="#c8202a"/>
<path d="M0 33V29L10 24.500L16 27L22 26L29 33Z" fill="#980a2b"/>
</g></g></svg>
<svg style="left:934px;top:900px" width="32" height="32" viewBox="0 0 32 32">
<defs><clipPath id="avc4"><rect width="32" height="32" rx="3.2"/></clipPath><filter id="avb4" x="-20%" y="-20%" width="140%" height="140%"><feGaussianBlur stdDeviation="0.8"/></filter></defs>
<g clip-path="url(#avc4)"><linearGradient id="a4bg" x1="0" y1="0" x2="1" y2="0"><stop offset="0" stop-color="#e2e2e2"/><stop offset="1" stop-color="#bdbdbd"/></linearGradient>
<rect width="32" height="32" fill="url(#a4bg)"/>
<g filter="url(#avb4)">
<path d="M23 22L33 20V33H22Z" fill="#1f1f22"/>
<path d="M0 33V28L4 26.500L6 33Z" fill="#1c1c1e"/>
<path d="M4 2C8 -1 18 -1 21 3C24 8 24 14 27 19C30 23 31 28 30 32L5 33C3 28 5 22 3.500 17C2 12 2 6 4 2Z" fill="#b4773d"/>
<ellipse cx="12.500" cy="12.300" rx="6.200" ry="8.800" fill="#eac4ad"/>
<path d="M6.500 9.500h5.200v2.600h-5.200zM13 9.500h5v2.600h-5z" fill="none" stroke="#3c342e" stroke-width="0.9"/>
<path d="M10 16.800C11.500 18.300 14 18.300 15.500 16.500C14 17.300 11.500 17.300 10 16.800Z" fill="#cf3a3a"/>
<path d="M10 23L15 23L17 33H10Z" fill="#e3bda8"/>
<path d="M8 28l3 5h-4zM18 28l-1 5h4z" fill="#6d93c4"/>
<path d="M6 14C4 20 9 24 7 32L4 32C5 26 3 20 6 14ZM17 5C21 8 20 16 23 21C26 25 26 30 25 33L18 33C19 28 17 24 18 19C18.500 14 19 9 17 5Z" fill="#a9682f"/>
</g></g></svg>
<svg style="left:934px;top:954px" width="32" height="32" viewBox="0 0 32 32">
<defs><clipPath id="avc5"><rect width="32" height="32" rx="3.2"/></clipPath><filter id="avb5" x="-20%" y="-20%" width="140%" height="140%"><feGaussianBlur stdDeviation="0.8"/></filter></defs>
<g clip-path="url(#avc5)"><rect width="32" height="32" fill="#3d3a38"/>
<g filter="url(#avb5)">
<path d="M5 14C5 6 10 1.500 16 1.500C23 1.500 27 8 27.500 16C30 20 31 25 28 28C25 29 21 27 20 24L8 29L3 29C4 24 4.500 19 5 14Z" fill="#99562a"/>
<path d="M10 6C13 1.500 21 2 24 8C21 6 14 5 10 6Z" fill="#6e3414"/>
<path d="M7 28L12 25L22 25L27 31V33H6Z" fill="#e6bfa8"/>
<ellipse cx="13.800" cy="18.600" rx="7" ry="9.800" transform="rotate(-8 13.800 18.600)" fill="#e7bca4"/>
<path d="M7.500 13C9 8 15 7 19 11C21 13 22 17 21 21C19 15 14 11 7.500 13Z" fill="#99562a"/>
<rect x="8.800" y="15.300" width="2.800" height="1" fill="#3b2a25"/><rect x="15.300" y="14.800" width="3" height="1" fill="#3b2a25"/>
<path d="M10.500 22.500C12 23.800 15 23.600 16.500 22Z" fill="#c56a5e"/>
<path d="M5.500 15C4.500 20 6 25 8.500 28L6 29C4 26 4.500 19 5.500 15Z" fill="#7c421c"/>
</g></g></svg>

<span class="t" style="left:75.90px;top:21.70px;font-size:20px;font-weight:400;color:#222;transform:scaleX(1.0520);-webkit-text-stroke:0.55px #222;">Content Report</span>
<span class="t" style="left:1280.70px;top:21.80px;font-size:14px;font-weight:400;color:#344563;transform:scaleX(1.0416);">Settings</span>
<span class="t" style="left:77.10px;top:88.90px;font-size:14px;font-weight:400;color:#7a869a;transform:scaleX(0.9929);">Filter by space</span>
<span class="t" style="left:262.10px;top:88.90px;font-size:14px;font-weight:400;color:#7a869a;transform:scaleX(1.0062);">Filter by source</span>
<span class="t" style="left:447.10px;top:88.90px;font-size:14px;font-weight:400;color:#7a869a;transform:scaleX(1.0458);">Filter by content type</span>
<span class="t" style="left:657.40px;top:88.80px;font-size:14px;font-weight:400;color:#344563;transform:scaleX(1.0256);">Filters</span>
<span class="t" style="left:1006.40px;top:89.80px;font-size:14px;font-weight:400;color:#172b4d;transform:scaleX(1.0011);">September 8, 2020 - October 8, 2020</span>
<span class="t" style="left:1275.60px;top:88.80px;font-size:14px;font-weight:400;color:#344563;transform:scaleX(1.0311);">More</span>
<span class="t" style="left:71.10px;top:696.70px;font-size:16px;font-weight:400;color:#222;transform:scaleX(0.9969);-webkit-text-stroke:0.3px #222;">Viewed spaces</span>
<span class="t" style="left:496.90px;top:696.70px;font-size:16px;font-weight:400;color:#222;transform:scaleX(1.0510);-webkit-text-stroke:0.3px #222;">Viewed contents</span>
<span class="t" style="left:922.80px;top:696.70px;font-size:16px;font-weight:400;color:#222;transform:scaleX(1.0472);-webkit-text-stroke:0.3px #222;">Viewers</span>
<span class="t" style="left:123.50px;top:744.10px;font-size:14px;font-weight:400;color:#3b73af;transform:scaleX(1.0167);">Knowledgebase</span>
<span class="t" style="left:402.40px;top:744.00px;font-size:14px;font-weight:700;color:#0052cc;transform:scaleX(1.0142);">71</span>
<span class="t" style="left:123.50px;top:798.10px;font-size:14px;font-weight:400;color:#3b73af;transform:scaleX(0.9969);">Projekt Space</span>
<span class="t" style="left:402.40px;top:798.00px;font-size:14px;font-weight:700;color:#0052cc;transform:scaleX(1.0913);">33</span>
<span class="t" style="left:123.50px;top:852.10px;font-size:14px;font-weight:400;color:#3b73af;transform:scaleX(0.9807);">Projets (FR)</span>
<span class="t" style="left:402.40px;top:852.00px;font-size:14px;font-weight:700;color:#0052cc;transform:scaleX(1.0913);">22</span>
<span class="t" style="left:123.50px;top:906.10px;font-size:14px;font-weight:400;color:#3b73af;transform:scaleX(1.0247);">Document Hub</span>
<span class="t" style="left:402.40px;top:906.00px;font-size:14px;font-weight:700;color:#0052cc;transform:scaleX(1.0463);">21</span>
<span class="t" style="left:123.50px;top:960.10px;font-size:14px;font-weight:400;color:#3b73af;transform:scaleX(0.9653);">Human Resources FR</span>
<span class="t" style="left:403.20px;top:960.00px;font-size:14px;font-weight:700;color:#0052cc;transform:scaleX(0.9992);">11</span>
<span class="t" style="left:123.50px;top:1014.10px;font-size:14px;font-weight:400;color:#3b73af;transform:scaleX(0.9891);">Sales &amp; Marketing Fr</span>
<span class="t" style="left:408.00px;top:1014.00px;font-size:14px;font-weight:700;color:#0052cc;transform:scaleX(1.1030);">6</span>
<span class="t" style="left:123.50px;top:1068.10px;font-size:14px;font-weight:400;color:#3b73af;transform:scaleX(1.0377);">Dokumentemanagement</span>
<span class="t" style="left:408.00px;top:1068.00px;font-size:14px;font-weight:700;color:#0052cc;transform:scaleX(1.1030);">4</span>
<span class="t" style="left:533.90px;top:744.00px;font-size:14px;font-weight:400;color:#3b73af;transform:scaleX(0.9882);">Knowledgebase_DWC</span>
<span class="t" style="left:828.40px;top:744.00px;font-size:14px;font-weight:700;color:#0052cc;transform:scaleX(1.0913);">22</span>
<span class="t" style="left:533.90px;top:798.00px;font-size:14px;font-weight:400;color:#3b73af;transform:scaleX(1.0154);">Document Hub Home</span>
<span class="t" style="left:828.30px;top:798.00px;font-size:14px;font-weight:700;color:#0052cc;transform:scaleX(1.0977);">18</span>
<span class="t" style="left:533.90px;top:852.00px;font-size:14px;font-weight:400;color:#3b73af;transform:scaleX(1.0382);">Installation d une nouvelle imprimante</span>
<span class="t" style="left:828.70px;top:852.00px;font-size:14px;font-weight:700;color:#0052cc;transform:scaleX(1.0720);">12</span>
<span class="t" style="left:533.90px;top:906.00px;font-size:14px;font-weight:400;color:#3b73af;transform:scaleX(1.0997);">Projektportfolio</span>
<span class="t" style="left:834.00px;top:906.00px;font-size:14px;font-weight:700;color:#0052cc;transform:scaleX(1.1030);">9</span>
<span class="t" style="left:533.90px;top:960.00px;font-size:14px;font-weight:400;color:#3b73af;transform:scaleX(1.0299);">Intégration des nouveaux collaborateurs</span>
<span class="t" style="left:834.00px;top:960.00px;font-size:14px;font-weight:700;color:#0052cc;transform:scaleX(1.1030);">7</span>
<span class="t" style="left:533.90px;top:1014.00px;font-size:14px;font-weight:400;color:#3b73af;transform:scaleX(1.0372);">Projets</span>
<span class="t" style="left:834.00px;top:1014.00px;font-size:14px;font-weight:700;color:#0052cc;transform:scaleX(1.1030);">6</span>
<span class="t" style="left:533.90px;top:1068.00px;font-size:14px;font-weight:400;color:#3b73af;transform:scaleX(1.0310);">Projekt Weiterentwicklung Harley Davidson</span>
<span class="t" style="left:834.00px;top:1068.00px;font-size:14px;font-weight:700;color:#0052cc;transform:scaleX(1.1030);">6</span>
<span class="t" style="left:975.90px;top:744.00px;font-size:14px;font-weight:400;color:#3b73af;transform:scaleX(0.9991);">Edmond Preiser</span>
<span class="t" style="left:1305.40px;top:744.00px;font-size:14px;font-weight:700;color:#0052cc;transform:scaleX(1.1216);">109</span>
<span class="t" style="left:975.90px;top:798.00px;font-size:14px;font-weight:400;color:#3b73af;transform:scaleX(0.9698);">François Leuba</span>
<span class="t" style="left:1313.90px;top:798.00px;font-size:14px;font-weight:700;color:#0052cc;transform:scaleX(1.1362);">64</span>
<span class="t" style="left:975.90px;top:852.00px;font-size:14px;font-weight:400;color:#3b73af;transform:scaleX(0.9793);">Denise Roux</span>
<span class="t" style="left:1314.70px;top:852.00px;font-size:14px;font-weight:700;color:#0052cc;transform:scaleX(1.0720);">12</span>
<span class="t" style="left:975.90px;top:906.00px;font-size:14px;font-weight:400;color:#3b73af;transform:scaleX(0.9982);">Tamara Weber</span>
<span class="t" style="left:1320.00px;top:906.00px;font-size:14px;font-weight:700;color:#0052cc;transform:scaleX(1.1030);">5</span>
<span class="t" style="left:975.90px;top:960.00px;font-size:14px;font-weight:400;color:#3b73af;transform:scaleX(0.9813);">Linda Egger</span>
<span class="t" style="left:1320.00px;top:960.00px;font-size:14px;font-weight:700;color:#0052cc;transform:scaleX(1.1030);">2</span>
</div>
</body></html>
